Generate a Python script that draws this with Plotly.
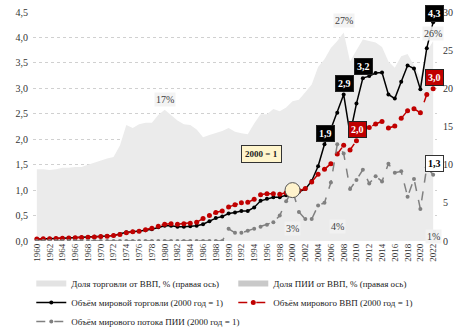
import plotly.graph_objects as go

years = list(range(1960, 2023))

# Trade share of GDP, % (right axis)
trade_share = [9.4, 9.4, 9.3, 9.4, 9.6, 9.6, 9.7, 9.7, 10.0, 10.3,
               10.6, 10.8, 11.0, 12.5, 15.2, 14.8, 15.3, 15.5, 15.5, 16.5,
               17.2, 16.5, 15.8, 15.3, 15.2, 14.6, 13.6, 13.9, 14.1, 14.4,
               14.8, 14.3, 14.1, 14.0, 15.4, 16.6, 16.6, 17.3, 17.0, 17.5,
               18.3, 18.5, 19.5, 20.5, 22.8, 23.8, 25.3, 26.2, 27.3, 23.5,
               25.0, 26.4, 26.2, 26.0, 25.4, 23.5, 22.7, 24.2, 24.5, 23.0,
               21.5, 24.8, 26.2]

# FDI share of GDP, % (right axis), 1990-2022
fdi_years = list(range(1990, 2023))
fdi_share = [1.0, 0.8, 0.8, 1.0, 1.0, 1.2, 1.3, 1.6, 2.2, 3.1,
             3.4, 2.2, 1.7, 1.5, 1.7, 2.2, 2.8, 3.7, 2.9, 2.0,
             2.2, 2.3, 2.0, 2.0, 1.7, 2.4, 2.2, 1.8, 1.3, 1.6,
             1.0, 1.9, 1.4]

# World trade volume (2000 = 1)
trade_vol = [0.04, 0.04, 0.045, 0.05, 0.055, 0.06, 0.065, 0.07, 0.075, 0.085,
             0.09, 0.10, 0.11, 0.14, 0.17, 0.18, 0.19, 0.21, 0.23, 0.27,
             0.30, 0.30, 0.28, 0.28, 0.29, 0.30, 0.33, 0.39, 0.45, 0.48,
             0.54, 0.56, 0.59, 0.59, 0.66, 0.79, 0.83, 0.86, 0.86, 0.90,
             1.00, 0.97, 1.02, 1.18, 1.47, 1.90, 2.20, 2.52, 2.88, 2.10,
             2.70, 3.20, 3.24, 3.30, 3.31, 2.88, 2.80, 3.13, 3.45, 3.39,
             2.98, 3.79, 4.30]

# World GDP (2000 = 1)
gdp = [0.04, 0.043, 0.046, 0.05, 0.055, 0.06, 0.064, 0.068, 0.073, 0.08,
       0.087, 0.095, 0.11, 0.13, 0.16, 0.18, 0.19, 0.22, 0.25, 0.29,
       0.33, 0.34, 0.33, 0.34, 0.35, 0.37, 0.44, 0.50, 0.56, 0.59,
       0.67, 0.71, 0.75, 0.76, 0.82, 0.91, 0.93, 0.93, 0.92, 0.95,
       1.00, 0.99, 1.03, 1.16, 1.31, 1.41, 1.52, 1.71, 1.88, 1.79,
       1.97, 2.19, 2.23, 2.30, 2.35, 2.22, 2.26, 2.41, 2.56, 2.60,
       2.52, 2.88, 2.99]

# World FDI flow (2000 = 1)
fdi_flow = [0.0] * 30 + [0.24, 0.16, 0.16, 0.20, 0.24, 0.28, 0.32, 0.37, 0.50, 0.78,
                         1.00, 0.57, 0.43, 0.43, 0.70, 0.75, 1.15, 1.90, 1.72, 1.02,
                         1.20, 1.40, 1.13, 1.27, 1.17, 1.52, 1.34, 1.37, 0.87, 1.22,
                         0.63, 1.45, 1.30]

x_ticks = list(range(1960, 2023, 2))

SERIF = "'Liberation Serif', 'Times New Roman', serif"
RED = "#c00000"
GRAY = "#808080"
AREA = "#ebebeb"
BAR = "#c9c9c9"

fig = go.Figure()

fig.add_trace(go.Scatter(x=years, y=trade_share, mode="lines", fill="tozeroy",
                         fillcolor=AREA, line=dict(width=0, color=AREA),
                         yaxis="y", showlegend=False, hoverinfo="skip"))
fig.add_trace(go.Bar(x=fdi_years, y=fdi_share, width=1.0, marker=dict(color=BAR, line=dict(width=0)),
                     yaxis="y", showlegend=False))

# legend stand-ins for the shares
fig.add_trace(go.Scatter(x=[None], y=[None], mode="lines", line=dict(color="#e3e3e3", width=6),
                         name="Доля торговли от ВВП, % (правая ось)", yaxis="y"))
fig.add_trace(go.Scatter(x=[None], y=[None], mode="lines", line=dict(color=BAR, width=6),
                         name="Доля ПИИ от ВВП, % (правая ось)", yaxis="y"))

fig.add_trace(go.Scatter(x=years, y=trade_vol, mode="lines+markers", yaxis="y2",
                         line=dict(color="black", width=1.5),
                         marker=dict(color="black", size=4),
                         name="Объём мировой торговли (2000 год = 1)"))
fig.add_trace(go.Scatter(x=years, y=gdp, mode="lines+markers", yaxis="y2",
                         line=dict(color=RED, width=1.5, dash="dash"),
                         marker=dict(color=RED, size=5),
                         name="Объём мирового ВВП (2000 год = 1)"))
fig.add_trace(go.Scatter(x=years, y=fdi_flow, mode="lines+markers", yaxis="y2",
                         line=dict(color=GRAY, width=1.5, dash="dash"),
                         marker=dict(color=GRAY, size=4),
                         name="Объём мирового потока ПИИ (2000 год = 1)"))

# 2000 = 1 marker
i2000 = years.index(2000)
fig.add_trace(go.Scatter(x=[2000], y=[trade_vol[i2000]], mode="markers", yaxis="y2",
                         marker=dict(color="#fff3cc", size=15, line=dict(color="#555555", width=1)),
                         showlegend=False))

def fmt(v):
    return f"{v:.1f}".replace(".", ",")

ann = []
def box(year, series, bg, fg="white", border="#222222", yshift=11):
    v = series[years.index(year)]
    ann.append(dict(x=year, y=v, xref="x", yref="y2", text=f"<b>{fmt(v)}</b>",
                    showarrow=False, yshift=yshift, xshift=1,
                    font=dict(family=SERIF, size=10, color=fg),
                    bgcolor=bg, bordercolor=border, borderwidth=1, borderpad=2))

box(2005, trade_vol, "black")
box(2008, trade_vol, "black")
box(2011, trade_vol, "black", yshift=12)
box(2022, trade_vol, "black", yshift=9)
box(2010, gdp, RED)
box(2022, gdp, RED)
box(2022, fdi_flow, "white", fg="black", border="#333333")

def pct(year, series, xs, text, yshift):
    v = series[xs.index(year)]
    ann.append(dict(x=year, y=v, xref="x", yref="y", text=text, showarrow=False,
                    yshift=yshift, font=dict(family=SERIF, size=10, color="#404040"),
                    bgcolor="rgba(242,242,242,0.9)", borderpad=1))

pct(1980, trade_share, years, "17%", 10)
pct(2008, trade_share, years, "27%", 12)
pct(2022, trade_share, years, "26%", 8)
pct(2000, fdi_share, fdi_years, "3%", -13)
pct(2007, fdi_share, fdi_years, "4%", -14)
pct(2022, fdi_share, fdi_years, "1%", -6)

ann.append(dict(x=1995.2, y=1.70, xref="x", yref="y2", text="<b>2000 = 1</b>", showarrow=False,
                font=dict(family=SERIF, size=9, color="#222222"),
                bgcolor="#fff5cc", bordercolor="#333333", borderwidth=1, borderpad=3))

fig.update_layout(
    width=474, height=332,
    margin=dict(l=33, r=37, t=12, b=91, autoexpand=False),
    paper_bgcolor="white", plot_bgcolor="white",
    separators=", ",
    bargap=0,
    font=dict(family=SERIF, size=10, color="#333333"),
    xaxis=dict(range=[1959.4, 2022.6], tickmode="array", tickvals=x_ticks,
               ticktext=[str(t) for t in x_ticks], tickangle=-90,
               tickfont=dict(family=SERIF, size=9, color="#333333"),
               showgrid=False, zeroline=False, showline=False, ticks=""),
    yaxis=dict(range=[0, 30], side="right", tickmode="array",
               tickvals=[0, 5, 10, 15, 20, 25, 30], ticksuffix="%",
               showgrid=False, zeroline=False, showline=False, ticklabelstandoff=5,
               tickfont=dict(family=SERIF, size=10, color="#333333")),
    yaxis2=dict(range=[0, 4.5], overlaying="y", side="left", dtick=0.5, tick0=0,
                tickformat=".1f", showgrid=True, gridcolor="#d0d0d0", griddash="dot",
                gridwidth=1, zeroline=False, showline=False, ticklabelstandoff=4,
                tickfont=dict(family=SERIF, size=10, color="#333333")),
    legend=dict(orientation="h", xref="container", yref="container",
                x=0.066, xanchor="left", y=0.19, yanchor="top",
                entrywidth=157, entrywidthmode="pixels", itemwidth=30,
                font=dict(family=SERIF, size=9, color="#222222"),
                bgcolor="rgba(0,0,0,0)", tracegroupgap=0),
    annotations=ann,
    showlegend=True,
)

fig.write_html("out.html")
